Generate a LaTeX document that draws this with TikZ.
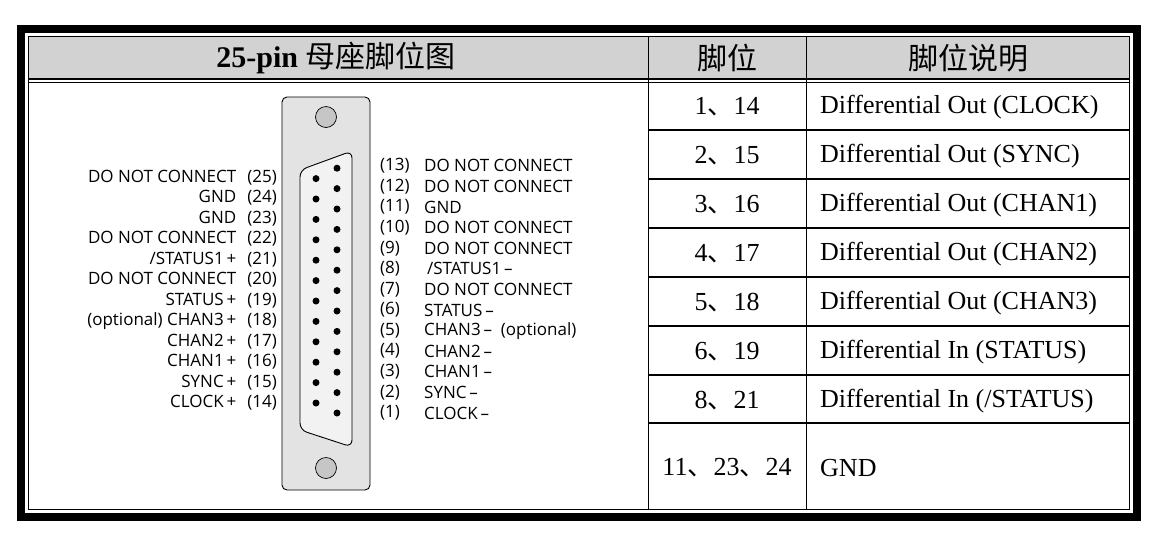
\documentclass[tikz,border=0pt]{standalone}
\usepackage{fontspec}
\setmainfont{Liberation Serif}
\newfontfamily\cjk{Noto Sans CJK SC}
\newfontfamily\lbl{Open Sans}
\newcommand\dun{{\cjk 、}}
\begin{document}
\begin{tikzpicture}[x=1pt,y=-1pt,
  cell/.style={font=\fontsize{26}{28}\selectfont},
  hd/.style={font=\cjk\fontsize{30}{32}\selectfont},
  pinl/.style={font=\lbl\fontsize{17}{18}\selectfont,inner sep=0pt},
  pin/.style={circle,fill=black,inner sep=0pt,minimum size=7pt}]
\useasboundingbox (0,0) rectangle (1159,539);
\fill[white] (0,0) rectangle (1159,539);
% header
\fill[gray!35] (29,37) rectangle (1129,80);
% outer frame
\draw[line width=8pt] (21,29) rectangle (1137,517);
\draw[line width=1.2pt] (28.5,36.5) rectangle (1129.5,509.5);
\draw[line width=1.4pt] (29,79) -- (1129,79);
\draw[line width=0.8pt] (29,82.5) -- (1129,82.5);
\draw[line width=1pt] (648,37) -- (648,509) (806,37) -- (806,509);
\foreach \yy in {130,179,228,277,326,375,423}
  \draw[line width=1.4pt] (648,\yy) -- (1129,\yy);
% header text
\node[hd] (h1) at (336,58) {\fontspec{Liberation Serif}\bfseries 25-pin \mdseries\cjk 母座脚位图};
\node[hd] (h2) at (727,58) {脚位};
\node[hd] (h3) at (968,58) {脚位说明};
% table rows
\foreach \p/\d/\yy in {{1\dun 14}/{Differential Out (CLOCK)}/107, {2\dun 15}/{Differential Out (SYNC)}/156, {3\dun 16}/{Differential Out (CHAN1)}/205, {4\dun 17}/{Differential Out (CHAN2)}/254, {5\dun 18}/{Differential Out (CHAN3)}/303, {6\dun 19}/{Differential In (STATUS)}/352, {8\dun 21}/{Differential In (/STATUS)}/401, {11\dun 23\dun 24}/{GND}/468}{
  \node[cell] at (727,\yy) {\p};
  \node[cell,anchor=west,inner sep=0pt] at (820,\yy) {\d};
}
% connector
\draw[fill=gray!22,line width=0.9pt,rounded corners=5pt] (282,97) rectangle (370,490);
\draw[fill=gray!45,line width=0.7pt] (326,117) circle (10.5);
\draw[fill=gray!45,line width=0.7pt] (326,468) circle (10.5);
\draw[fill=gray!10,line width=0.9pt,rounded corners=7pt] (300,170) -- (352,151) -- (352,447) -- (300,430) -- cycle;
\foreach \i in {1,...,13} \node[pin] (r\i) at (337,{413-(\i-1)*20.4}) {};
\foreach \i in {14,...,25} \node[pin] (l\i) at (316,{403-(\i-14)*20.4}) {};
% left labels
\foreach \n/\t in {25/{DO NOT CONNECT},24/{GND},23/{GND},22/{DO NOT CONNECT},21/{\,/STATUS1\,+},20/{DO NOT CONNECT},19/{STATUS\,+},18/{(optional) CHAN3\,+},17/{CHAN2\,+},16/{CHAN1\,+},15/{SYNC\,+},14/{CLOCK\,+}}{
  \node[pinl,anchor=east] at (277,{403-(\n-14)*20.5}) {\t\hspace{11pt}(\n)};
}
% right labels
\foreach \n/\t in {13/{DO NOT CONNECT},12/{DO NOT CONNECT},11/{GND},10/{DO NOT CONNECT},9/{DO NOT CONNECT},8/{\,/STATUS1\,–},7/{DO NOT CONNECT},6/{STATUS\,–},5/{CHAN3\,–\ \ (optional)},4/{CHAN2\,–},3/{CHAN1\,–},2/{SYNC\,–},1/{CLOCK\,–}}{
  \node[pinl,anchor=west] at (380,{413-(\n-1)*20.6}) {(\n)};
  \node[pinl,anchor=west] at (424,{413-(\n-1)*20.6}) {\t};
}
\end{tikzpicture}
\end{document}
